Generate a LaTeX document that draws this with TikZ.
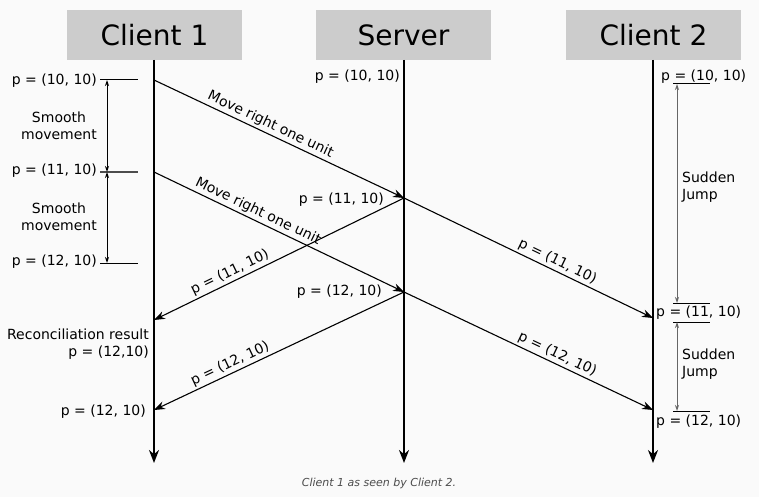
\documentclass[tikz,border=0pt]{standalone}
\usepackage{fontspec}
\setmainfont{DejaVu Sans}
\usetikzlibrary{arrows.meta}
\begin{document}
\begin{tikzpicture}[x=1pt,y=-1pt,
  hdr/.style={fill=black!20,minimum width=175pt,minimum height=50pt,font=\fontsize{28}{32}\selectfont},
  life/.style={line width=2pt,-{Stealth[length=13pt,width=10pt]}},
  msg/.style={-{Stealth[length=11pt,width=8pt]},line width=1.1pt},
  lbl/.style={font=\fontsize{14}{16.5}\selectfont,inner sep=2pt},
  tick/.style={line width=1pt},
  gap/.style={{Stealth[length=6pt,width=4pt]}-{Stealth[length=6pt,width=4pt]},line width=1pt}]
\fill[black!2] (0,0) rectangle (759,497);
\useasboundingbox (0,0) rectangle (759,497);
\node[hdr] (h1) at (154.5,35) {Client 1};
\node[hdr] (h2) at (403.5,35) {Server};
\node[hdr] (h3) at (653.5,35) {Client 2};
\coordinate (c1t) at (154,60); \coordinate (c1b) at (154,463);
\coordinate (st) at (404,60); \coordinate (sb) at (404,463);
\coordinate (c2t) at (653,60); \coordinate (c2b) at (653,463);
\draw[life] (c1t) -- (c1b);
\draw[life] (st) -- (sb);
\draw[life] (c2t) -- (c2b);
% messages
\coordinate (a1) at (154,80); \coordinate (s1) at (404,198);
\coordinate (a2) at (154,172); \coordinate (s2) at (404,292);
\coordinate (b1) at (653,318); \coordinate (b2) at (653,410);
\coordinate (r1) at (154,320); \coordinate (r2) at (154,410);
\draw[msg] (a1) -- node[lbl,sloped,above,pos=0.45] {Move right one unit} (s1);
\draw[msg] (a2) -- node[lbl,sloped,above,pos=0.4] {Move right one unit} (s2);
\draw[msg] (s1) -- node[lbl,sloped,above,pos=0.6] {p = (11, 10)} (b1);
\draw[msg] (s2) -- node[lbl,sloped,above,pos=0.6] {p = (12, 10)} (b2);
\draw[msg] (s1) -- node[lbl,sloped,above,pos=0.68] {p = (11, 10)} (r1);
\draw[msg] (s2) -- node[lbl,sloped,above,pos=0.68] {p = (12, 10)} (r2);
% left
\coordinate (l1) at (100,80); \coordinate (l1e) at (138,80);
\coordinate (l2) at (100,172); \coordinate (l2e) at (138,172);
\coordinate (l3) at (100,263); \coordinate (l3e) at (138,263);
\draw[tick] (l1) -- (l1e);
\draw[line width=2pt,black!70] (l2) -- (l2e);
\draw[tick] (l3) -- (l3e);
\coordinate (g1) at (107,80); \coordinate (g2) at (107,172); \coordinate (g3) at (107,263);
\draw[gap] (g1) -- (g2);
\draw[gap] (g2) -- (g3);
\node[lbl,anchor=east] (p1) at (99,81) {p = (10, 10)};
\node[lbl,anchor=east] (p2) at (99,171) {p = (11, 10)};
\node[lbl,anchor=east] (p3) at (99,262) {p = (12, 10)};
\node[lbl,align=center] (sm1) at (59,126) {Smooth\\movement};
\node[lbl,align=center] (sm2) at (59,217) {Smooth\\movement};
\node[lbl,align=right,anchor=east] (rec) at (151,344) {Reconciliation result\\p = (12,10)};
\node[lbl,anchor=east] (p4) at (148,412) {p = (12, 10)};
% server labels
\node[lbl,anchor=east] (sv0) at (402,77) {p = (10, 10)};
\node[lbl,anchor=east] (sv1) at (386,200) {p = (11, 10)};
\node[lbl,anchor=east] (sv2) at (384,292) {p = (12, 10)};
% right
\coordinate (t1) at (673,84); \coordinate (t1e) at (710,84);
\coordinate (t2) at (673,303); \coordinate (t2e) at (710,303);
\coordinate (t3) at (673,322); \coordinate (t3e) at (710,322);
\coordinate (t4) at (673,411); \coordinate (t4e) at (710,411);
\foreach \u/\v in {t1/t1e,t2/t2e,t3/t3e,t4/t4e} \draw[tick] (\u) -- (\v);
\coordinate (j1) at (677,84); \coordinate (j2) at (677,303);
\coordinate (j3) at (677,322); \coordinate (j4) at (677,411);
\draw[gap,black!60] (j1) -- (j2);
\draw[gap,black!60] (j3) -- (j4);
\node[lbl,anchor=west] (q1) at (659,77) {p = (10, 10)};
\node[lbl,anchor=west] (q2) at (654,313) {p = (11, 10)};
\node[lbl,anchor=west] (q3) at (654,422) {p = (12, 10)};
\node[lbl,align=left,anchor=west] (sj1) at (680,187) {Sudden\\Jump};
\node[lbl,align=left,anchor=west] (sj2) at (680,364) {Sudden\\Jump};
\node[font=\itshape\fontsize{11}{13}\selectfont,text=black!70] (cap) at (379,483) {Client 1 as seen by Client 2.};
\end{tikzpicture}
\end{document}
